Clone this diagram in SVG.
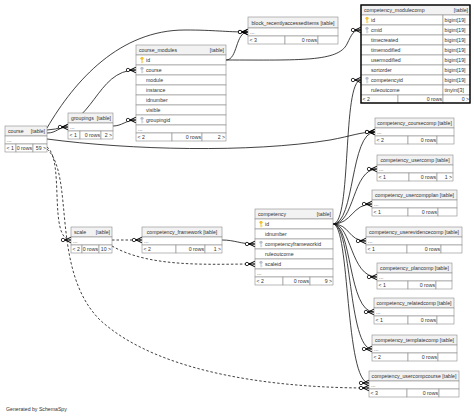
<svg xmlns="http://www.w3.org/2000/svg" width="474" height="416" viewBox="0 0 474 416">
<style>
.t{font-family:"Liberation Sans",Arial,sans-serif;font-size:5.2px;fill:#333}
.e{text-anchor:end}
.m{text-anchor:middle}
.h{fill:#f2f2f2;stroke:#8a8a8a;stroke-width:.6}
.r{fill:#fff;stroke:#8a8a8a;stroke-width:.6}
.l{fill:none;stroke:#111;stroke-width:.8}
.d{stroke-dasharray:2.5,2}
</style>
<defs>
<marker id="crow" viewBox="-11 -4 12 8" refX="0" refY="0" markerWidth="12" markerHeight="8" orient="auto" markerUnits="userSpaceOnUse">
<path d="M-6,0 L0,-2.8 M-6,0 L0,0 M-6,0 L0,2.8" stroke="#000" stroke-width="1" fill="none"/>
<circle cx="-8" cy="0" r="1.7" fill="#fff" stroke="#000" stroke-width=".8"/>
</marker>
<symbol id="key" viewBox="0 0 4 7" width="4" height="7"><circle cx="2" cy="1.8" r="1.6"/><rect x="1.5" y="3" width="1" height="4"/><rect x="2.5" y="5" width="1" height=".8"/></symbol>
</defs>
<rect width="474" height="416" fill="#fff"/>

<g id="connectors">
<path class="l" marker-end="url(#crow)" d="M47,130 C95,128 95,70 136,70"/>
<path class="l" marker-end="url(#crow)" d="M47,128 C75,80 120,30 185,30 C215,30 225,32 248,32"/>
<path class="l" marker-end="url(#crow)" d="M47,133 C57,133 58,127 68,127"/>
<path class="l" marker-end="url(#crow)" d="M226,60 C238,60 235,32 248,32"/>
<path class="l" marker-end="url(#crow)" d="M226,60 C300,60 338,62 347,44 C352,34 353,30 361,30"/>
<path class="l" marker-end="url(#crow)" d="M113,126 C122,126 126,120 136,120"/>
<path class="l" marker-end="url(#crow)" d="M47,139 C130,150 250,153 330,140 C352,136 360,132 375,132"/>
<path class="l d" marker-end="url(#crow)" d="M47,147 C65,160 48,240 71,240"/>
<path class="l d" marker-end="url(#crow)" d="M47,149 C75,175 50,270 100,320 C160,375 280,388 369,388"/>
<path class="l d" marker-end="url(#crow)" d="M112,240 L142,240"/>
<path class="l d" marker-end="url(#crow)" d="M112,246 C150,268 210,264 255,264"/>
<path class="l" marker-end="url(#crow)" d="M222,240 C235,240 240,244 255,244"/>
<path class="l" marker-end="url(#crow)" d="M333,224 C352,224 342,80 361,80"/>
<path class="l" marker-end="url(#crow)" d="M333,224 C355,224 350,132 375,132"/>
<path class="l" marker-end="url(#crow)" d="M333,224 C355,224 352,169 377,169"/>
<path class="l" marker-end="url(#crow)" d="M333,224 C352,224 352,204 372,204"/>
<path class="l" marker-end="url(#crow)" d="M333,224 C350,224 348,241 366,241"/>
<path class="l" marker-end="url(#crow)" d="M333,224 C352,224 350,277 377,277"/>
<path class="l" marker-end="url(#crow)" d="M333,224 C352,224 348,312 374,312"/>
<path class="l" marker-end="url(#crow)" d="M333,224 C352,224 348,349 372,349"/>
<path class="l" marker-end="url(#crow)" d="M333,224 C350,224 345,383 369,383"/>
</g>

<g id="course">
<rect class="h" x="5" y="126" width="42" height="10"/>
<text class="t" x="8" y="133">course</text><text class="t e" x="45" y="133">[table]</text>
<rect class="r" x="5" y="136" width="42" height="8"/><text class="t" x="7" y="142">...</text>
<rect class="r" x="5" y="144" width="11" height="8"/><rect class="r" x="16" y="144" width="17" height="8"/><rect class="r" x="33" y="144" width="14" height="8"/>
<text class="t" x="6.5" y="150">&lt; 1</text><text class="t e" x="32" y="150">0 rows</text><text class="t e" x="46" y="150">59 &gt;</text>
</g>

<g id="groupings">
<rect class="h" x="68" y="113" width="45" height="10"/>
<text class="t" x="71" y="120">groupings</text><text class="t e" x="111" y="120">[table]</text>
<rect class="r" x="68" y="123" width="45" height="8"/><text class="t" x="70" y="129">...</text>
<rect class="r" x="68" y="131" width="12" height="8"/><rect class="r" x="80" y="131" width="21" height="8"/><rect class="r" x="101" y="131" width="12" height="8"/>
<text class="t" x="69.5" y="137">&lt; 1</text><text class="t e" x="100" y="137">0 rows</text><text class="t e" x="112" y="137">2 &gt;</text>
</g>

<g id="scale">
<rect class="h" x="71" y="227" width="41" height="10"/>
<text class="t" x="74" y="234">scale</text><text class="t e" x="110" y="234">[table]</text>
<rect class="r" x="71" y="237" width="41" height="8"/><text class="t" x="73" y="243">...</text>
<rect class="r" x="71" y="245" width="11" height="8"/><rect class="r" x="82" y="245" width="17" height="8"/><rect class="r" x="99" y="245" width="13" height="8"/>
<text class="t" x="72.5" y="251">&lt; 2</text><text class="t e" x="98" y="251">0 rows</text><text class="t e" x="111" y="251">10 &gt;</text>
</g>

<g id="competency_framework">
<rect class="h" x="142" y="227" width="80" height="10"/>
<text class="t m" x="182" y="234">competency_framework [table]</text>
<rect class="r" x="142" y="237" width="80" height="8"/><text class="t" x="144" y="243">...</text>
<rect class="r" x="142" y="245" width="34" height="8"/><rect class="r" x="176" y="245" width="29" height="8"/><rect class="r" x="205" y="245" width="17" height="8"/>
<text class="t" x="143.5" y="251">&lt; 2</text><text class="t e" x="204" y="251">0 rows</text><text class="t e" x="221" y="251">1 &gt;</text>
</g>

<g id="course_modules">
<rect class="h" x="136" y="45" width="90" height="10"/>
<text class="t" x="139" y="52">course_modules</text><text class="t e" x="224" y="52">[table]</text>
<rect class="r" x="136" y="55" width="90" height="10"/><use href="#key" x="140" y="56.5" fill="#f1c232"/><text class="t" x="146" y="62">id</text>
<rect class="r" x="136" y="65" width="90" height="10"/><use href="#key" x="140" y="66.5" fill="#b9c1d1"/><text class="t" x="146" y="72">course</text>
<rect class="r" x="136" y="75" width="90" height="10"/><text class="t" x="146" y="82">module</text>
<rect class="r" x="136" y="85" width="90" height="10"/><text class="t" x="146" y="92">instance</text>
<rect class="r" x="136" y="95" width="90" height="10"/><text class="t" x="146" y="102">idnumber</text>
<rect class="r" x="136" y="105" width="90" height="10"/><text class="t" x="146" y="112">visible</text>
<rect class="r" x="136" y="115" width="90" height="10"/><use href="#key" x="140" y="116.5" fill="#b9c1d1"/><text class="t" x="146" y="122">groupingid</text>
<rect class="r" x="136" y="125" width="90" height="8"/><text class="t" x="138" y="131">...</text>
<rect class="r" x="136" y="133" width="36" height="8"/><rect class="r" x="172" y="133" width="30" height="8"/><rect class="r" x="202" y="133" width="24" height="8"/>
<text class="t" x="137.5" y="139">&lt; 2</text><text class="t e" x="201" y="139">0 rows</text><text class="t e" x="225" y="139">2 &gt;</text>
</g>

<g id="block_recentlyaccesseditems">
<rect class="h" x="248" y="17" width="90" height="11"/>
<text class="t m" x="293" y="24.5">block_recentlyaccesseditems [table]</text>
<rect class="r" x="248" y="28" width="90" height="8"/><text class="t" x="250" y="34">...</text>
<rect class="r" x="248" y="36" width="37" height="8"/><rect class="r" x="285" y="36" width="33" height="8"/><rect class="r" x="318" y="36" width="20" height="8"/>
<text class="t" x="249.5" y="42">&lt; 3</text><text class="t e" x="317" y="42">0 rows</text>
</g>

<g id="competency_modulecomp">
<rect class="h" x="361" y="5" width="109" height="10"/>
<text class="t" x="364" y="12">competency_modulecomp</text><text class="t e" x="468" y="12">[table]</text>
<rect class="r" x="361" y="15" width="82" height="10"/><rect class="r" x="443" y="15" width="27" height="10"/><use href="#key" x="365" y="16.5" fill="#f1c232"/><text class="t" x="371" y="22">id</text><text class="t" x="444.5" y="22">bigint[19]</text>
<rect class="r" x="361" y="25" width="82" height="10"/><rect class="r" x="443" y="25" width="27" height="10"/><use href="#key" x="365" y="26.5" fill="#b9c1d1"/><text class="t" x="371" y="32">cmid</text><text class="t" x="444.5" y="32">bigint[19]</text>
<rect class="r" x="361" y="35" width="82" height="10"/><rect class="r" x="443" y="35" width="27" height="10"/><text class="t" x="371" y="42">timecreated</text><text class="t" x="444.5" y="42">bigint[19]</text>
<rect class="r" x="361" y="45" width="82" height="10"/><rect class="r" x="443" y="45" width="27" height="10"/><text class="t" x="371" y="52">timemodified</text><text class="t" x="444.5" y="52">bigint[19]</text>
<rect class="r" x="361" y="55" width="82" height="10"/><rect class="r" x="443" y="55" width="27" height="10"/><text class="t" x="371" y="62">usermodified</text><text class="t" x="444.5" y="62">bigint[19]</text>
<rect class="r" x="361" y="65" width="82" height="10"/><rect class="r" x="443" y="65" width="27" height="10"/><text class="t" x="371" y="72">sortorder</text><text class="t" x="444.5" y="72">bigint[19]</text>
<rect class="r" x="361" y="75" width="82" height="10"/><rect class="r" x="443" y="75" width="27" height="10"/><use href="#key" x="365" y="76.5" fill="#b9c1d1"/><text class="t" x="371" y="82">competencyid</text><text class="t" x="444.5" y="82">bigint[19]</text>
<rect class="r" x="361" y="85" width="82" height="10"/><rect class="r" x="443" y="85" width="27" height="10"/><text class="t" x="371" y="92">ruleoutcome</text><text class="t" x="444.5" y="92">tinyint[3]</text>
<rect class="r" x="361" y="95" width="37" height="8"/><rect class="r" x="398" y="95" width="45" height="8"/><rect class="r" x="443" y="95" width="27" height="8"/>
<text class="t" x="362.5" y="101">&lt; 2</text><text class="t e" x="442" y="101">0 rows</text><text class="t e" x="469" y="101">0 &gt;</text>
<rect x="361" y="5" width="109" height="98" fill="none" stroke="#000" stroke-width="1.4"/>
</g>

<g id="competency">
<rect class="h" x="255" y="209" width="78" height="10"/>
<text class="t" x="258" y="216">competency</text><text class="t e" x="331" y="216">[table]</text>
<rect class="r" x="255" y="219" width="78" height="10"/><use href="#key" x="259" y="220.5" fill="#f1c232"/><text class="t" x="265" y="226">id</text>
<rect class="r" x="255" y="229" width="78" height="10"/><text class="t" x="265" y="236">idnumber</text>
<rect class="r" x="255" y="239" width="78" height="10"/><use href="#key" x="259" y="240.5" fill="#b9c1d1"/><text class="t" x="265" y="246">competencyframeworkid</text>
<rect class="r" x="255" y="249" width="78" height="10"/><text class="t" x="265" y="256">ruleoutcome</text>
<rect class="r" x="255" y="259" width="78" height="10"/><use href="#key" x="259" y="260.5" fill="#b9c1d1"/><text class="t" x="265" y="266">scaleid</text>
<rect class="r" x="255" y="269" width="78" height="8"/><text class="t" x="257" y="275">...</text>
<rect class="r" x="255" y="277" width="28" height="8"/><rect class="r" x="283" y="277" width="27" height="8"/><rect class="r" x="310" y="277" width="23" height="8"/>
<text class="t" x="256.5" y="283">&lt; 2</text><text class="t e" x="309" y="283">0 rows</text><text class="t e" x="332" y="283">9 &gt;</text>
</g>

<g id="competency_coursecomp">
<rect class="h" x="375" y="118" width="79" height="10"/><text class="t m" x="414.5" y="125">competency_coursecomp [table]</text>
<rect class="r" x="375" y="128" width="79" height="8"/><text class="t" x="377" y="134">...</text>
<rect class="r" x="375" y="136" width="33" height="8"/><rect class="r" x="408" y="136" width="29" height="8"/><rect class="r" x="437" y="136" width="17" height="8"/>
<text class="t" x="376.5" y="142">&lt; 2</text><text class="t e" x="436" y="142">0 rows</text>
</g>

<g id="competency_usercomp">
<rect class="h" x="377" y="155" width="76" height="10"/><text class="t m" x="415" y="162">competency_usercomp [table]</text>
<rect class="r" x="377" y="165" width="76" height="8"/><text class="t" x="379" y="171">...</text>
<rect class="r" x="377" y="173" width="32" height="8"/><rect class="r" x="409" y="173" width="28" height="8"/><rect class="r" x="437" y="173" width="16" height="8"/>
<text class="t" x="378.5" y="179">&lt; 1</text><text class="t e" x="436" y="179">0 rows</text><text class="t e" x="452" y="179">1 &gt;</text>
</g>

<g id="competency_usercompplan">
<rect class="h" x="372" y="190" width="85" height="10"/><text class="t m" x="414.5" y="197">competency_usercompplan [table]</text>
<rect class="r" x="372" y="200" width="85" height="8"/><text class="t" x="374" y="206">...</text>
<rect class="r" x="372" y="208" width="36" height="8"/><rect class="r" x="408" y="208" width="30" height="8"/><rect class="r" x="438" y="208" width="19" height="8"/>
<text class="t" x="373.5" y="214">&lt; 1</text><text class="t e" x="437" y="214">0 rows</text>
</g>

<g id="competency_userevidencecomp">
<rect class="h" x="366" y="227" width="96" height="10"/><text class="t m" x="414" y="234">competency_userevidencecomp [table]</text>
<rect class="r" x="366" y="237" width="96" height="8"/><text class="t" x="368" y="243">...</text>
<rect class="r" x="366" y="245" width="41" height="8"/><rect class="r" x="407" y="245" width="34" height="8"/><rect class="r" x="441" y="245" width="21" height="8"/>
<text class="t" x="367.5" y="251">&lt; 1</text><text class="t e" x="440" y="251">0 rows</text>
</g>

<g id="competency_plancomp">
<rect class="h" x="377" y="263" width="75" height="10"/><text class="t m" x="414.5" y="270">competency_plancomp [table]</text>
<rect class="r" x="377" y="273" width="75" height="8"/><text class="t" x="379" y="279">...</text>
<rect class="r" x="377" y="281" width="31" height="8"/><rect class="r" x="408" y="281" width="28" height="8"/><rect class="r" x="436" y="281" width="16" height="8"/>
<text class="t" x="378.5" y="287">&lt; 1</text><text class="t e" x="435" y="287">0 rows</text>
</g>

<g id="competency_relatedcomp">
<rect class="h" x="374" y="298" width="80" height="10"/><text class="t m" x="414" y="305">competency_relatedcomp [table]</text>
<rect class="r" x="374" y="308" width="80" height="8"/><text class="t" x="376" y="314">...</text>
<rect class="r" x="374" y="316" width="34" height="8"/><rect class="r" x="408" y="316" width="29" height="8"/><rect class="r" x="437" y="316" width="17" height="8"/>
<text class="t" x="375.5" y="322">&lt; 1</text><text class="t e" x="436" y="322">0 rows</text>
</g>

<g id="competency_templatecomp">
<rect class="h" x="372" y="335" width="85" height="10"/><text class="t m" x="414.5" y="342">competency_templatecomp [table]</text>
<rect class="r" x="372" y="345" width="85" height="8"/><text class="t" x="374" y="351">...</text>
<rect class="r" x="372" y="353" width="36" height="8"/><rect class="r" x="408" y="353" width="30" height="8"/><rect class="r" x="438" y="353" width="19" height="8"/>
<text class="t" x="373.5" y="359">&lt; 2</text><text class="t e" x="437" y="359">0 rows</text>
</g>

<g id="competency_usercompcourse">
<rect class="h" x="369" y="371" width="90" height="10"/><text class="t m" x="414" y="378">competency_usercompcourse [table]</text>
<rect class="r" x="369" y="381" width="90" height="8"/><text class="t" x="371" y="387">...</text>
<rect class="r" x="369" y="389" width="38" height="8"/><rect class="r" x="407" y="389" width="32" height="8"/><rect class="r" x="439" y="389" width="20" height="8"/>
<text class="t" x="370.5" y="395">&lt; 3</text><text class="t e" x="438" y="395">0 rows</text>
</g>

<text class="t" x="6" y="411">Generated by SchemaSpy</text>
</svg>
